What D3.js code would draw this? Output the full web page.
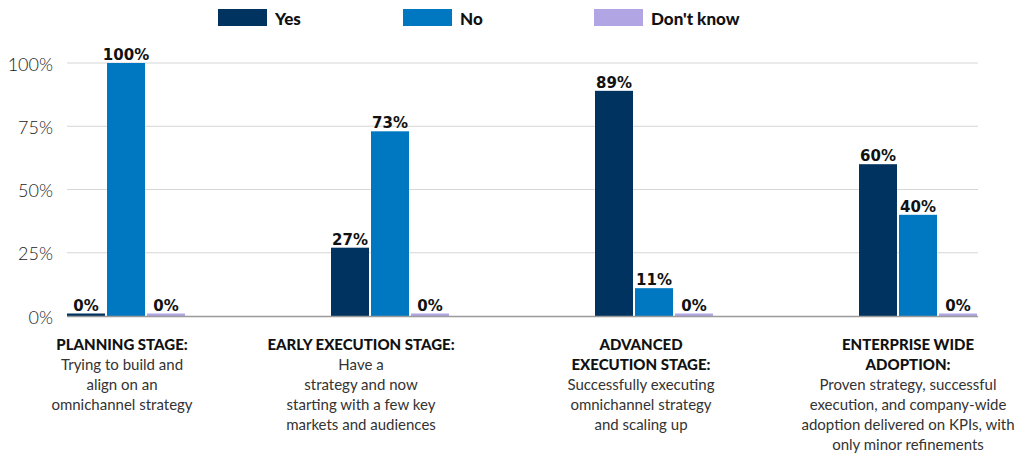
<!DOCTYPE html>
<html>
<head>
<meta charset="utf-8">
<script src="https://cdn.jsdelivr.net/npm/d3@7"></script>
<style>
  html, body { margin: 0; padding: 0; background: #fff; }
  svg { display: block; }
</style>
</head>
<body>
<svg id="chart" width="1024" height="460"></svg>
<script>
const categories = ["PLANNING STAGE", "EARLY EXECUTION STAGE", "ADVANCED EXECUTION STAGE", "ENTERPRISE WIDE ADOPTION"];
const seriesNames = ["Yes", "No", "Don't know"];
const yesValues = [0, 27, 89, 60];
const noValues = [100, 73, 11, 40];
const dontKnowValues = [0, 0, 0, 0];
const yTicks = [0, 25, 50, 75, 100];
const titleLines = [
  ["PLANNING STAGE:"],
  ["EARLY EXECUTION STAGE:"],
  ["ADVANCED", "EXECUTION STAGE:"],
  ["ENTERPRISE WIDE", "ADOPTION:"]
];
const descLines = [
  ["Trying to build and", "align on an", "omnichannel strategy"],
  ["Have a", "strategy and now", "starting with a few key", "markets and audiences"],
  ["Successfully executing", "omnichannel strategy", "and scaling up"],
  ["Proven strategy, successful", "execution, and company-wide", "adoption delivered on KPIs, with", "only minor refinements"]
];

(function() {
const colors = ["#00335f", "#0078c1", "#b1a5e4"];
const seriesValues = [yesValues, noValues, dontKnowValues];

const svg = d3.select("#chart");
const mLeft = 67, mRight = 978, mTop = 63, mBottom = 316;

const groupStep = 264, groupW = 118;
const x0 = d3.scaleBand().domain(categories).range([mLeft, mLeft + groupStep * categories.length]);
const x1 = d3.scaleBand().domain(seriesNames).range([0, groupW]).paddingInner(0.05);
const y = d3.scaleLinear().domain([0, 100]).range([mBottom, mTop]);

// gridlines
svg.append("g").selectAll("line").data(yTicks.filter(t => t > 0)).join("line")
  .attr("x1", mLeft).attr("x2", mRight)
  .attr("y1", d => y(d)).attr("y2", d => y(d))
  .attr("stroke", "#d6d6d6").attr("stroke-width", 1.2);

// y axis labels
const yAxis = d3.axisLeft(y).tickValues(yTicks).tickFormat(d => d + "%").tickSize(0).tickPadding(14);
const ya = svg.append("g").attr("transform", `translate(${mLeft},0)`).call(yAxis);
ya.select(".domain").remove();
ya.selectAll("text").attr("font-family", "Lato, sans-serif").attr("font-weight", 300)
  .attr("font-size", 18).attr("fill", "#1a1a1a").attr("dy", "0.4em");

// bars
const groups = svg.append("g").selectAll("g").data(categories).join("g")
  .attr("transform", d => `translate(${x0(d)},0)`);

groups.each(function(cat, ci) {
  const g = d3.select(this);
  seriesNames.forEach((s, si) => {
    const v = seriesValues[si][ci];
    const h = Math.max(mBottom - y(v), 2.5);
    g.append("rect")
      .attr("x", x1(s)).attr("width", x1.bandwidth())
      .attr("y", mBottom - h).attr("height", h)
      .attr("fill", colors[si]);
    g.append("text")
      .attr("x", x1(s) + x1.bandwidth() / 2)
      .attr("y", mBottom - h - 3)
      .attr("text-anchor", "middle")
      .attr("font-family", "'DejaVu Sans', sans-serif").attr("font-weight", 700)
      .attr("font-size", 15).attr("fill", "#111")
      .text(v + "%");
  });
});

// baseline
svg.append("line").attr("x1", mLeft).attr("x2", mRight).attr("y1", mBottom + 0.5).attr("y2", mBottom + 0.5)
  .attr("stroke", "#9a9a9a").attr("stroke-width", 1.3);

// category labels
const labelNudge = [-4, -29, -13, -10];
categories.forEach((cat, ci) => {
  const cx = x0(cat) + groupW / 2 + labelNudge[ci];
  const t = svg.append("text").attr("text-anchor", "middle").attr("font-family", "Lato, sans-serif");
  let lineY = 350;
  titleLines[ci].forEach(line => {
    t.append("tspan").attr("x", cx).attr("y", lineY).attr("font-weight", 900).attr("font-size", 15).attr("fill", "#111").text(line);
    lineY += 20;
  });
  descLines[ci].forEach(line => {
    t.append("tspan").attr("x", cx).attr("y", lineY).attr("font-weight", 400).attr("font-size", 15).attr("fill", "#333").text(line);
    lineY += 20;
  });
});

// legend
const legendX = [218, 403, 594];
const lg = svg.append("g");
seriesNames.forEach((s, i) => {
  lg.append("rect").attr("x", legendX[i]).attr("y", 9).attr("width", 49).attr("height", 17).attr("fill", colors[i]);
  lg.append("text").attr("x", legendX[i] + 57).attr("y", 25)
    .attr("font-family", "Lato, sans-serif").attr("font-weight", 900).attr("font-size", 17).attr("fill", "#111").text(s);
});
})();
</script>
</body>
</html>
